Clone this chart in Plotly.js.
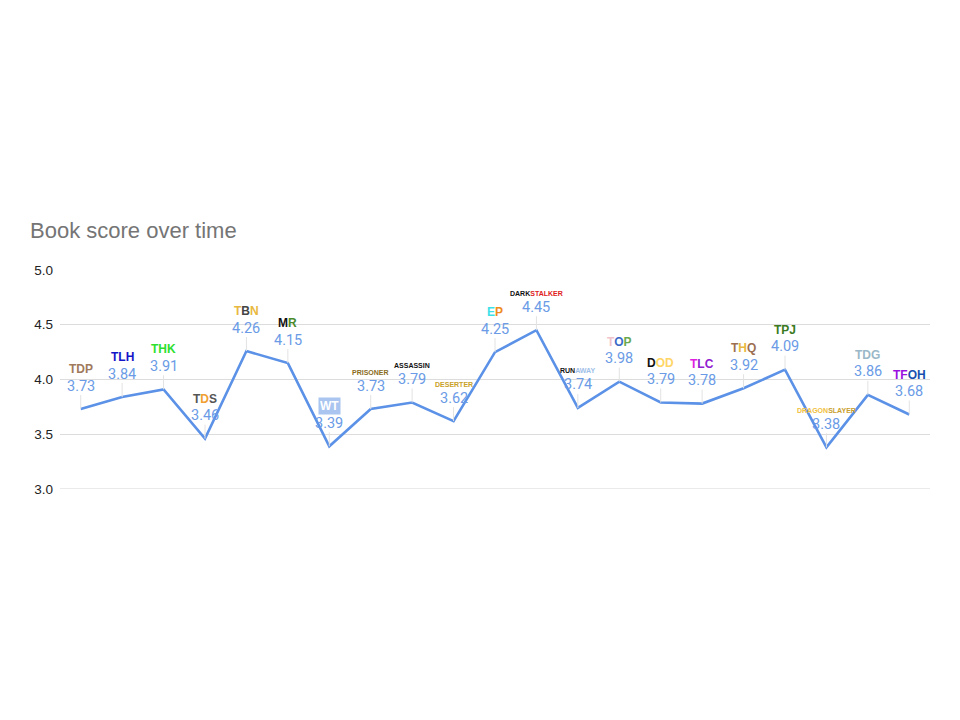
<!DOCTYPE html>
<html>
<head>
<meta charset="utf-8">
<script src="https://cdn.plot.ly/plotly-3.0.1.min.js"></script>
<style>html,body{margin:0;padding:0;background:#fff;}#chart{width:960px;height:720px;}</style>
</head>
<body>
<div id="chart"></div>
<script>
// ---- data ----
const books = ["TDP","TLH","THK","TDS","TBN","MR","WT","PRISONER","ASSASSIN","DESERTER","EP","DARKSTALKER","RUNAWAY","TOP","DOD","TLC","THQ","TPJ","DRAGONSLAYER","TDG","TFOH"];
const scores = [3.73,3.84,3.91,3.46,4.26,4.15,3.39,3.73,3.79,3.62,4.25,4.45,3.74,3.98,3.79,3.78,3.92,4.09,3.38,3.86,3.68];
const yTicks = [3.0,3.5,4.0,4.5,5.0];

// ---- styling of the name labels (split into coloured segments) ----
const labelStyle = {
  "TDP": [["TDP","#a07a5c"]],
  "TLH": [["TLH","#1414c8"]],
  "THK": [["THK","#2ee02e"]],
  "TDS": [["T","#555555"],["D","#f0a030"],["S","#555555"]],
  "TBN": [["T","#e8b840"],["B","#444444"],["N","#e8b840"]],
  "MR": [["M","#111111"],["R","#4a8a2a"]],
  "WT": [["WT","#ffffff"]],
  "PRISONER": [["PRISONER","#8a6d1e"]],
  "ASSASSIN": [["ASSASSIN","#111111"]],
  "DESERTER": [["DESERTER","#c9a227"]],
  "EP": [["E","#3ee0e8"],["P","#f08a1c"]],
  "DARKSTALKER": [["DARK","#111111"],["STALKER","#e02020"]],
  "RUNAWAY": [["RUN","#111111"],["AWAY","#a0c0e8"]],
  "TOP": [["T","#f0c4cc"],["O","#3a6bc8"],["P","#6aa84f"]],
  "DOD": [["D","#111111"],["OD","#ffd666"]],
  "TLC": [["T","#e020e0"],["LC","#9020d0"]],
  "THQ": [["T","#9c6f50"],["H","#e8b840"],["Q","#9c6f50"]],
  "TPJ": [["TPJ","#3a7a20"]],
  "DRAGONSLAYER": [["DRAGON","#f0c040"],["SLAYER","#c8a030"]],
  "TDG": [["TDG","#9ab8c8"]],
  "TFOH": [["TF","#9a10e0"],["OH","#1850b0"]]
};
const smallLabels = new Set(["PRISONER","ASSASSIN","DESERTER","DARKSTALKER","RUNAWAY","DRAGONSLAYER"]);
const valueColor = "#6b9be6";
const lineColor = "#5b91e6";
const labelFont = "'Liberation Sans', Arial, sans-serif";

const annotations = [];
books.forEach((b, i) => {
  const y = scores[i];
  annotations.push({
    x: b, y: y, xref: "x", yref: "y",
    text: y.toFixed(2),
    showarrow: true, arrowhead: 0, arrowwidth: 1, arrowcolor: "#e2e2e2",
    ax: 0, ay: -23, standoff: 0,
    font: {family: "Roboto, Arial, sans-serif", size: 14.5, color: valueColor},
    borderpad: 0
  });
  const small = smallLabels.has(b);
  const markup = labelStyle[b].map(p => '<span style="color:' + p[1] + '">' + p[0] + '</span>').join("");
  const ann = {
    x: b, y: y, xref: "x", yref: "y",
    text: "<b>" + markup + "</b>",
    showarrow: false,
    yshift: small ? 37 : 40,
    font: {family: labelFont, size: small ? 7 : 12, color: "#333"},
    borderpad: 0
  };
  if (b === "WT") { ann.bgcolor = "#a9c5f0"; ann.borderpad = 1; }
  annotations.push(ann);
});

const trace = {
  x: books, y: scores, type: "scatter", mode: "lines",
  line: {color: lineColor, width: 2.6},
  hoverinfo: "skip"
};

const layout = {
  width: 960, height: 720,
  paper_bgcolor: "#ffffff", plot_bgcolor: "#ffffff",
  margin: {l: 60, r: 30, t: 270, b: 231},
  showlegend: false,
  title: {
    text: "Book score over time",
    font: {family: labelFont, size: 22, color: "#757575"},
    xref: "container", x: 30/960, xanchor: "left",
    yref: "container", y: 1 - 230/720, yanchor: "middle"
  },
  xaxis: {
    type: "category", showticklabels: false, showgrid: false, zeroline: false,
    showline: false, ticks: "", range: [-0.5, books.length - 0.5], fixedrange: true
  },
  yaxis: {
    range: [yTicks[0], yTicks[yTicks.length - 1]], tickvals: yTicks, ticktext: yTicks.map(v => v.toFixed(1)),
    showgrid: true, gridcolor: "#dcdcdc", gridwidth: 1, zeroline: false,
    showline: false, ticks: "", ticklabelstandoff: 6,
    tickfont: {family: labelFont, size: 13.5, color: "#222"}
  },
  shapes: [{
    type: "line", xref: "paper", yref: "y", x0: 0, x1: 1, y0: yTicks[0], y1: yTicks[0],
    line: {color: "#d4d4d4", width: 1}, layer: "below"
  }],
  annotations: annotations,
  font: {family: labelFont}
};

Plotly.newPlot("chart", [trace], layout, {displayModeBar: false, staticPlot: true});
</script>
</body>
</html>
